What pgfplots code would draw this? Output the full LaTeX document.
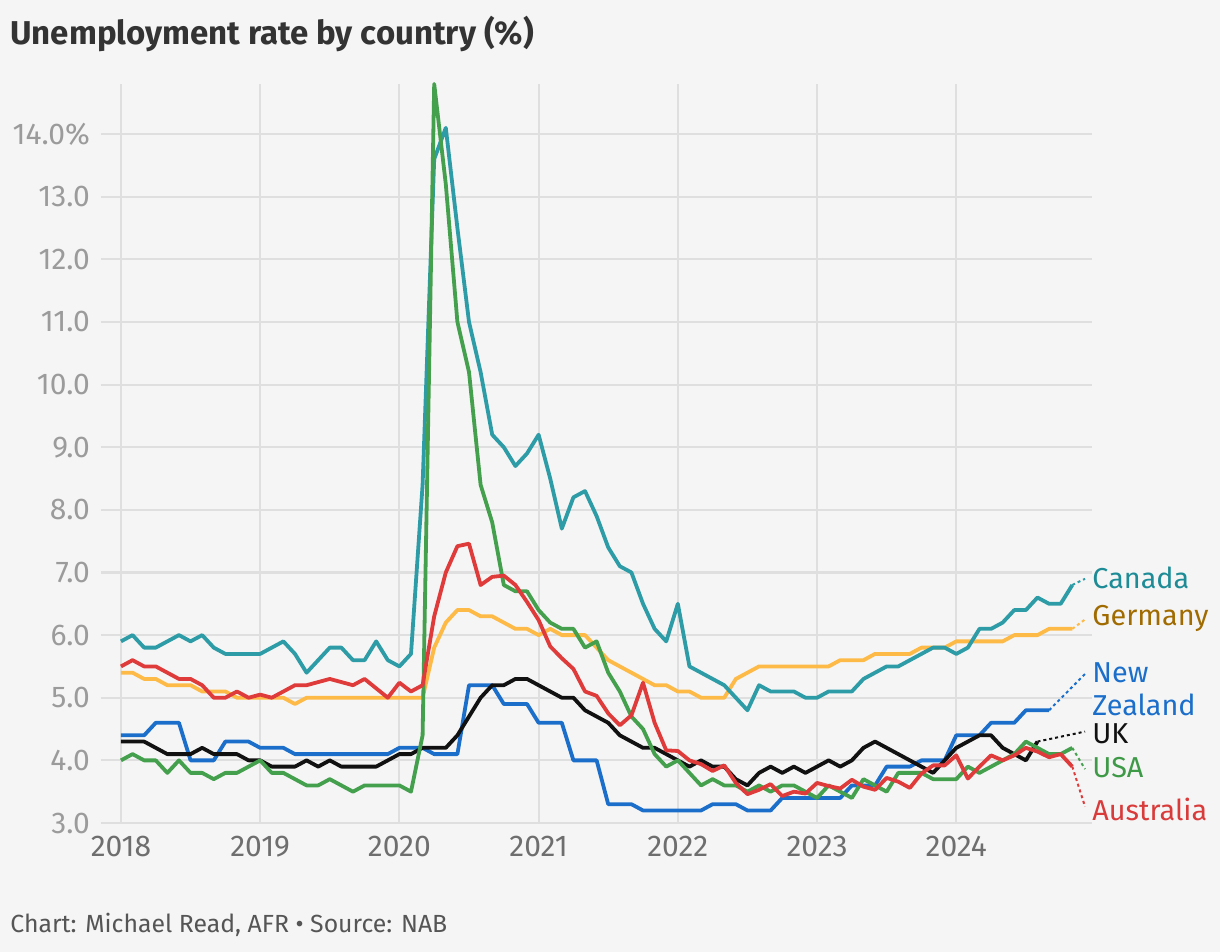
\documentclass[border=0pt]{standalone}
\usepackage{pgfplots}
\usepackage{pgfplotstable}
\pgfplotsset{compat=1.18}
\usepackage{fontspec}
\setmainfont{Fira Sans}
\definecolor{bg}{HTML}{F5F5F5}
\definecolor{gridc}{HTML}{DFDFDF}
\definecolor{canL}{HTML}{2E9CA6}
\definecolor{canT}{HTML}{1E8C96}
\definecolor{gerL}{HTML}{FDBA47}
\definecolor{gerT}{HTML}{A06B00}
\definecolor{nzL}{HTML}{1B6FCB}
\definecolor{ukL}{HTML}{111111}
\definecolor{usL}{HTML}{45A04E}
\definecolor{usT}{HTML}{3F9A48}
\definecolor{auL}{HTML}{E03B3B}
\definecolor{auT}{HTML}{D93A3A}
\definecolor{ytc}{HTML}{9B9B9B}
\definecolor{xtc}{HTML}{6E6E6E}
\definecolor{titc}{HTML}{333333}
\definecolor{footc}{HTML}{555555}

% m = months since Jan 2018
\pgfplotstableread{
m can ger nz uk us au
0 5.9 5.4 4.4 4.3 4.0 5.5
1 6.0 5.4 4.4 4.3 4.1 5.6
2 5.8 5.3 4.4 4.3 4.0 5.5
3 5.8 5.3 4.6 4.2 4.0 5.5
4 5.9 5.2 4.6 4.1 3.8 5.4
5 6.0 5.2 4.6 4.1 4.0 5.3
6 5.9 5.2 4.0 4.1 3.8 5.3
7 6.0 5.1 4.0 4.2 3.8 5.2
8 5.8 5.1 4.0 4.1 3.7 5.0
9 5.7 5.1 4.3 4.1 3.8 5.0
10 5.7 5.0 4.3 4.1 3.8 5.1
11 5.7 5.0 4.3 4.0 3.9 5.0
12 5.7 5.0 4.2 4.0 4.0 5.05
13 5.8 5.0 4.2 3.9 3.8 5.0
14 5.9 5.0 4.2 3.9 3.8 5.1
15 5.7 4.9 4.1 3.9 3.7 5.2
16 5.4 5.0 4.1 4.0 3.6 5.2
17 5.6 5.0 4.1 3.9 3.6 5.25
18 5.8 5.0 4.1 4.0 3.7 5.3
19 5.8 5.0 4.1 3.9 3.6 5.25
20 5.6 5.0 4.1 3.9 3.5 5.2
21 5.6 5.0 4.1 3.9 3.6 5.3
22 5.9 5.0 4.1 3.9 3.6 5.15
23 5.6 5.0 4.1 4.0 3.6 5.0
24 5.5 5.0 4.2 4.1 3.6 5.24
25 5.7 5.0 4.2 4.1 3.5 5.1
26 8.4 5.0 4.2 4.2 4.4 5.2
27 13.6 5.8 4.1 4.2 14.8 6.3
28 14.1 6.2 4.1 4.2 13.2 7.0
29 12.5 6.4 4.1 4.4 11.0 7.42
30 11.0 6.4 5.2 4.7 10.2 7.46
31 10.2 6.3 5.2 5.0 8.4 6.8
32 9.2 6.3 5.2 5.2 7.8 6.93
33 9.0 6.2 4.9 5.2 6.8 6.95
34 8.7 6.1 4.9 5.3 6.7 6.8
35 8.9 6.1 4.9 5.3 6.7 6.53
36 9.2 6.0 4.6 5.2 6.4 6.24
37 8.5 6.1 4.6 5.1 6.2 5.82
38 7.7 6.0 4.6 5.0 6.1 5.63
39 8.2 6.0 4.0 5.0 6.1 5.46
40 8.3 6.0 4.0 4.8 5.8 5.1
41 7.9 5.8 4.0 4.7 5.9 5.03
42 7.4 5.6 3.3 4.6 5.4 4.75
43 7.1 5.5 3.3 4.4 5.1 4.56
44 7.0 5.4 3.3 4.3 4.7 4.72
45 6.5 5.3 3.2 4.2 4.5 5.24
46 6.1 5.2 3.2 4.2 4.1 4.6
47 5.9 5.2 3.2 4.1 3.9 4.16
48 6.5 5.1 3.2 4.0 4.0 4.15
49 5.5 5.1 3.2 3.9 3.8 4.0
50 5.4 5.0 3.2 4.0 3.6 3.94
51 5.3 5.0 3.3 3.9 3.7 3.83
52 5.2 5.0 3.3 3.9 3.6 3.92
53 5.0 5.3 3.3 3.7 3.6 3.64
54 4.8 5.4 3.2 3.6 3.5 3.46
55 5.2 5.5 3.2 3.8 3.6 3.53
56 5.1 5.5 3.2 3.9 3.5 3.62
57 5.1 5.5 3.4 3.8 3.6 3.43
58 5.1 5.5 3.4 3.9 3.6 3.5
59 5.0 5.5 3.4 3.8 3.5 3.47
60 5.0 5.5 3.4 3.9 3.4 3.64
61 5.1 5.5 3.4 4.0 3.6 3.59
62 5.1 5.6 3.4 3.9 3.5 3.55
63 5.1 5.6 3.6 4.0 3.4 3.69
64 5.3 5.6 3.6 4.2 3.7 3.58
65 5.4 5.7 3.6 4.3 3.6 3.53
66 5.5 5.7 3.9 4.2 3.5 3.72
67 5.5 5.7 3.9 4.1 3.8 3.66
68 5.6 5.7 3.9 4.0 3.8 3.56
69 5.7 5.8 4.0 3.9 3.8 3.79
70 5.8 5.8 4.0 3.8 3.7 3.92
71 5.8 5.8 4.0 4.0 3.7 3.92
72 5.7 5.9 4.4 4.2 3.7 4.08
73 5.8 5.9 4.4 4.3 3.9 3.71
74 6.1 5.9 4.4 4.4 3.8 3.9
75 6.1 5.9 4.6 4.4 3.9 4.08
76 6.2 5.9 4.6 4.2 4.0 4.0
77 6.4 6.0 4.6 4.1 4.1 4.08
78 6.4 6.0 4.8 4.0 4.3 4.2
79 6.6 6.0 4.8 4.3 4.2 4.14
80 6.5 6.1 4.8 nan 4.1 4.05
81 6.5 6.1 nan nan 4.1 4.1
82 6.8 6.1 nan nan 4.2 3.9
}\data

\begin{document}
\begin{tikzpicture}
\useasboundingbox (0,0) rectangle (610pt,476pt);
\fill[bg] (0,0) rectangle (610pt,476pt);
\node[anchor=base west, inner sep=0, text=titc, font=\fontsize{16.5}{19}\selectfont\bfseries] at (5pt,453.5pt) {Unemployment rate by country (\%)};
\node[anchor=base west, inner sep=0, text=footc, font=\fontsize{12.4}{15}\selectfont] at (5pt,9.5pt) {Chart: Michael Read, AFR • Source: NAB};
\begin{axis}[
  at={(50.5pt,64.5pt)}, anchor=south west,
  scale only axis, width=495.5pt, height=369.5pt,
  xmin=-1.72, xmax=83.7, ymin=3, ymax=14.8,
  axis line style={draw=none},
  major tick length=0pt,
  grid=major, grid style={color=gridc, line width=1.1pt},
  xtick={0,12,24,36,48,60,72},
  xticklabels={2018,2019,2020,2021,2022,2023,2024},
  ytick={3,4,5,6,7,8,9,10,11,12,13,14},
  yticklabels={3.0,4.0,5.0,6.0,7.0,8.0,9.0,10.0,11.0,12.0,13.0,14.0\%},
  /pgf/number format/assume math mode=true,
  xticklabel style={text=xtc, font=\fontsize{15}{18}\selectfont, yshift=-3pt},
  yticklabel style={text=ytc, font=\fontsize{15}{18}\selectfont, xshift=-2pt},
  clip=false,
  unbounded coords=jump,
  every axis plot/.append style={line width=1.9pt, line join=round, no markers},
]
\addplot[gerL] table[x=m, y=ger] {\data};
\addplot[canL] table[x=m, y=can] {\data};
\addplot[nzL] table[x=m, y=nz] {\data};
\addplot[ukL] table[x=m, y=uk] {\data};
\addplot[usL] table[x=m, y=us] {\data};
\addplot[auL] table[x=m, y=au] {\data};
% leader lines
\tikzset{lead/.style={line width=1pt, dash pattern=on 1.5pt off 1.5pt}}
\draw[canL, lead] (axis cs:82,6.8) -- (axis cs:83.1,6.9);
\draw[gerL, lead] (axis cs:82,6.1) -- (axis cs:83.1,6.25);
\draw[nzL, lead] (axis cs:80,4.8) -- (axis cs:83.1,5.38);
\draw[ukL, lead] (axis cs:79,4.3) -- (axis cs:83.1,4.46);
\draw[usL, lead] (axis cs:82,4.2) -- (axis cs:83.1,3.86);
\draw[auL, lead] (axis cs:82,3.9) -- (axis cs:83.1,3.26);
% labels
\tikzset{lab/.style={anchor=west, inner sep=0, font=\fontsize{14.4}{17}\selectfont}}
\node[lab, text=canT] at (axis cs:83.7,6.906) {Canada};
\node[lab, text=gerT] at (axis cs:83.7,6.268) {Germany};
\node[lab, text=nzL] at (axis cs:83.7,5.40) {New};
\node[lab, text=nzL] at (axis cs:83.7,4.88) {Zealand};
\node[lab, text=ukL] at (axis cs:83.7,4.42) {UK};
\node[lab, text=usT] at (axis cs:83.7,3.88) {USA};
\node[lab, text=auT] at (axis cs:83.7,3.21) {Australia};
\end{axis}
\end{tikzpicture}
\end{document}
